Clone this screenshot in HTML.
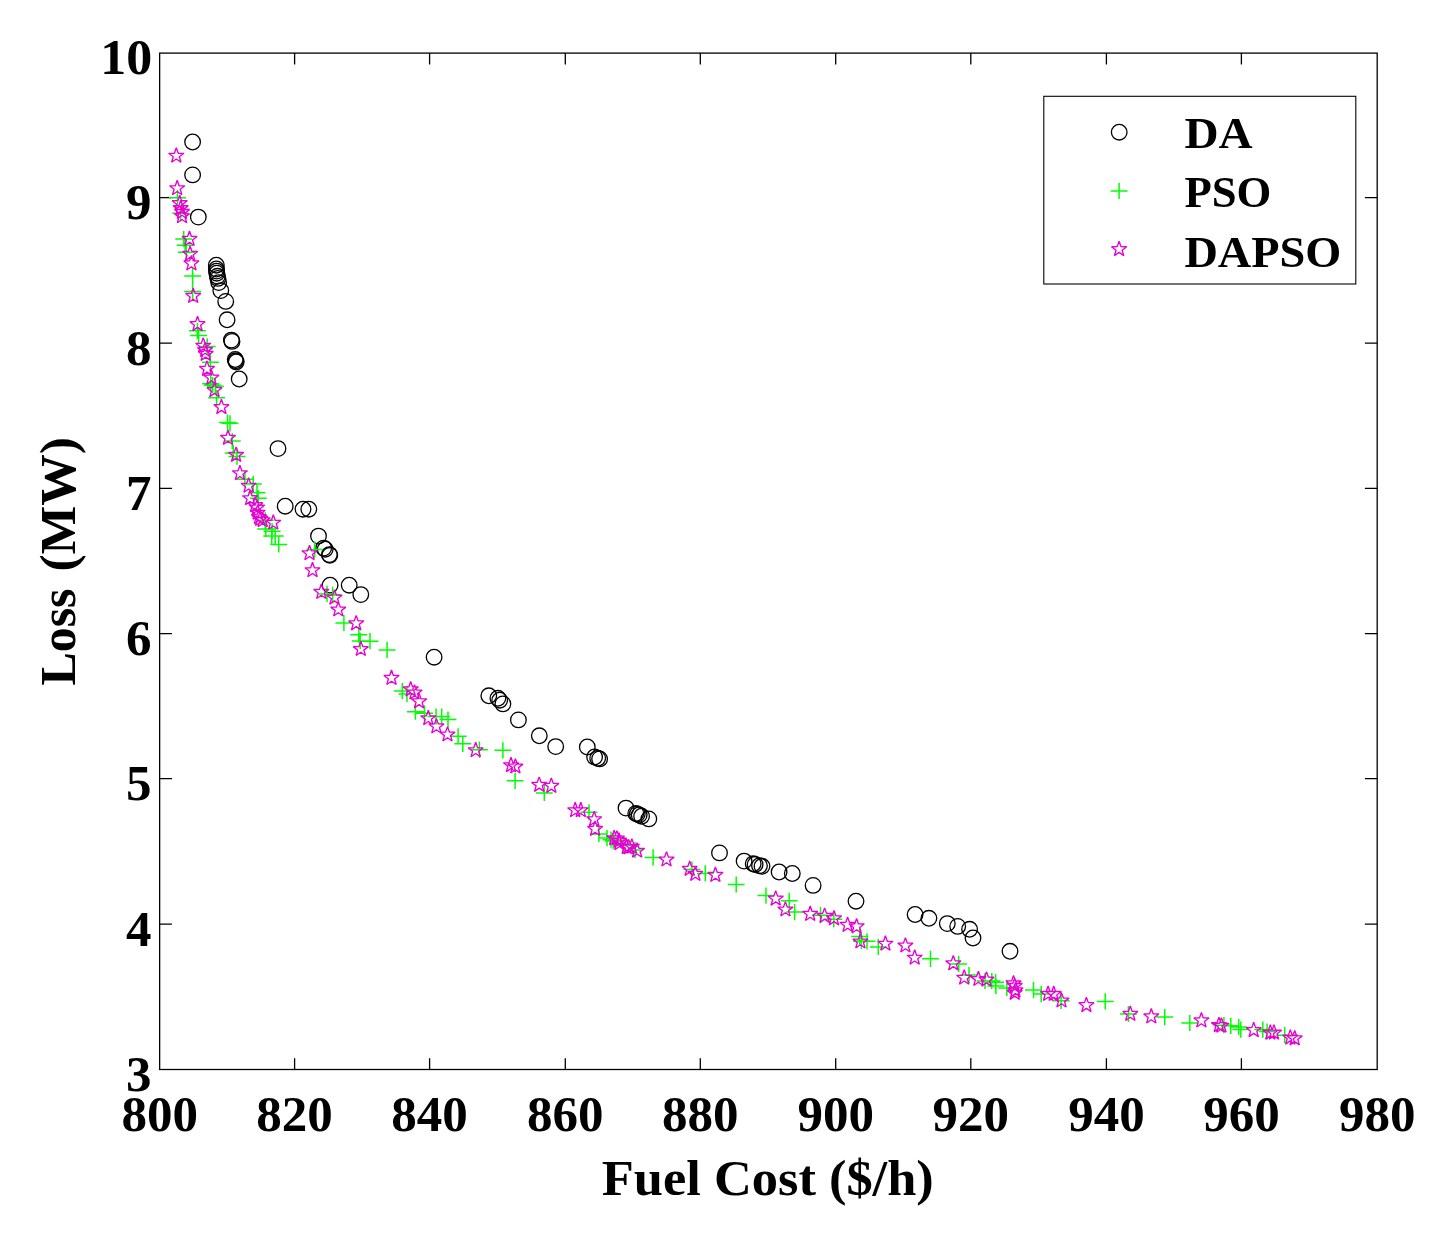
<!DOCTYPE html>
<html><head><meta charset="utf-8"><title>Pareto front: Loss vs Fuel Cost</title>
<style>
html,body{margin:0;padding:0;background:#fff;}
svg{display:block}
text{font-family:"Liberation Serif",serif;font-weight:bold;fill:#000}
</style></head><body>
<svg width="1436" height="1237" viewBox="0 0 1436 1237">
<rect width="1436" height="1237" fill="#fff"/>

<rect x="159.65" y="53.1" width="1217.55" height="1016.40" fill="none" stroke="#000" stroke-width="1.3"/>
<path d="M294.60 1069.5v-11.3M294.60 53.1v11.3M429.60 1069.5v-11.3M429.60 53.1v11.3M565.30 1069.5v-11.3M565.30 53.1v11.3M700.30 1069.5v-11.3M700.30 53.1v11.3M835.70 1069.5v-11.3M835.70 53.1v11.3M970.80 1069.5v-11.3M970.80 53.1v11.3M1106.40 1069.5v-11.3M1106.40 53.1v11.3M1241.40 1069.5v-11.3M1241.40 53.1v11.3M159.65 924.20h12.3M1377.2 924.20h-12.3M159.65 778.70h12.3M1377.2 778.70h-12.3M159.65 633.70h12.3M1377.2 633.70h-12.3M159.65 488.30h12.3M1377.2 488.30h-12.3M159.65 343.20h12.3M1377.2 343.20h-12.3M159.65 197.60h12.3M1377.2 197.60h-12.3" stroke="#000" stroke-width="1.3" fill="none"/>
<g font-size="51">
<text x="159.7" y="1130.5" text-anchor="middle">800</text>
<text x="294.6" y="1130.5" text-anchor="middle">820</text>
<text x="429.6" y="1130.5" text-anchor="middle">840</text>
<text x="565.3" y="1130.5" text-anchor="middle">860</text>
<text x="700.3" y="1130.5" text-anchor="middle">880</text>
<text x="835.7" y="1130.5" text-anchor="middle">900</text>
<text x="970.8" y="1130.5" text-anchor="middle">920</text>
<text x="1106.4" y="1130.5" text-anchor="middle">940</text>
<text x="1241.4" y="1130.5" text-anchor="middle">960</text>
<text x="1377.2" y="1130.5" text-anchor="middle">980</text>
<text x="151.6" y="1090.9" text-anchor="end">3</text>
<text x="151.6" y="945.6" text-anchor="end">4</text>
<text x="151.6" y="800.1" text-anchor="end">5</text>
<text x="151.6" y="655.1" text-anchor="end">6</text>
<text x="151.6" y="509.7" text-anchor="end">7</text>
<text x="151.6" y="364.6" text-anchor="end">8</text>
<text x="151.6" y="219.0" text-anchor="end">9</text>
<text x="152.2" y="74.1" text-anchor="end" textLength="52" lengthAdjust="spacingAndGlyphs">10</text>
</g>
<text x="767.8" y="1194.8" font-size="51" text-anchor="middle" textLength="332" lengthAdjust="spacingAndGlyphs">Fuel Cost ($/h)</text>
<g transform="translate(74.8 562) rotate(-90)" font-size="51"><text x="-123.5" y="0" textLength="97" lengthAdjust="spacingAndGlyphs">Loss</text><text x="-9.6" y="0" textLength="134.5" lengthAdjust="spacingAndGlyphs">(MW)</text></g>
<g fill="none" stroke="#000" stroke-width="1.3">
<circle cx="192.6" cy="142.0" r="7.8"/>
<circle cx="192.6" cy="174.9" r="7.8"/>
<circle cx="198.3" cy="217.1" r="7.8"/>
<circle cx="216.3" cy="265.2" r="7.8"/>
<circle cx="216.4" cy="269.0" r="7.8"/>
<circle cx="216.6" cy="271.1" r="7.8"/>
<circle cx="216.8" cy="273.2" r="7.8"/>
<circle cx="217.4" cy="276.3" r="7.8"/>
<circle cx="217.9" cy="278.4" r="7.8"/>
<circle cx="218.7" cy="282.6" r="7.8"/>
<circle cx="220.8" cy="290.6" r="7.8"/>
<circle cx="225.7" cy="301.4" r="7.8"/>
<circle cx="227.1" cy="319.8" r="7.8"/>
<circle cx="231.4" cy="340.1" r="7.8"/>
<circle cx="232.0" cy="341.4" r="7.8"/>
<circle cx="235.2" cy="359.5" r="7.8"/>
<circle cx="235.8" cy="360.8" r="7.8"/>
<circle cx="236.2" cy="362.0" r="7.8"/>
<circle cx="239.2" cy="379.0" r="7.8"/>
<circle cx="278.0" cy="448.6" r="7.8"/>
<circle cx="285.2" cy="506.2" r="7.8"/>
<circle cx="303.0" cy="509.2" r="7.8"/>
<circle cx="308.8" cy="509.2" r="7.8"/>
<circle cx="318.5" cy="536.1" r="7.8"/>
<circle cx="323.7" cy="548.1" r="7.8"/>
<circle cx="325.2" cy="549.2" r="7.8"/>
<circle cx="329.4" cy="554.6" r="7.8"/>
<circle cx="329.8" cy="555.3" r="7.8"/>
<circle cx="330.1" cy="585.2" r="7.8"/>
<circle cx="349.2" cy="585.2" r="7.8"/>
<circle cx="360.8" cy="594.6" r="7.8"/>
<circle cx="434.1" cy="657.2" r="7.8"/>
<circle cx="488.8" cy="695.8" r="7.8"/>
<circle cx="497.9" cy="698.3" r="7.8"/>
<circle cx="499.7" cy="700.2" r="7.8"/>
<circle cx="502.9" cy="703.9" r="7.8"/>
<circle cx="518.4" cy="719.9" r="7.8"/>
<circle cx="539.3" cy="735.8" r="7.8"/>
<circle cx="555.7" cy="746.6" r="7.8"/>
<circle cx="587.3" cy="747.0" r="7.8"/>
<circle cx="594.6" cy="757.0" r="7.8"/>
<circle cx="597.7" cy="758.3" r="7.8"/>
<circle cx="599.6" cy="758.9" r="7.8"/>
<circle cx="626.0" cy="808.1" r="7.8"/>
<circle cx="635.8" cy="813.4" r="7.8"/>
<circle cx="637.3" cy="814.1" r="7.8"/>
<circle cx="639.2" cy="815.0" r="7.8"/>
<circle cx="641.6" cy="816.2" r="7.8"/>
<circle cx="648.8" cy="818.9" r="7.8"/>
<circle cx="719.5" cy="852.9" r="7.8"/>
<circle cx="744.1" cy="861.1" r="7.8"/>
<circle cx="753.2" cy="863.8" r="7.8"/>
<circle cx="755.1" cy="864.5" r="7.8"/>
<circle cx="759.5" cy="865.7" r="7.8"/>
<circle cx="762.0" cy="866.3" r="7.8"/>
<circle cx="779.1" cy="872.0" r="7.8"/>
<circle cx="792.3" cy="873.5" r="7.8"/>
<circle cx="813.1" cy="885.4" r="7.8"/>
<circle cx="856.0" cy="901.2" r="7.8"/>
<circle cx="915.1" cy="914.5" r="7.8"/>
<circle cx="928.9" cy="918.3" r="7.8"/>
<circle cx="947.3" cy="923.6" r="7.8"/>
<circle cx="957.7" cy="926.4" r="7.8"/>
<circle cx="969.6" cy="929.3" r="7.8"/>
<circle cx="973.0" cy="938.0" r="7.8"/>
<circle cx="1010.0" cy="951.3" r="7.8"/>
<circle cx="1119.2" cy="132.2" r="7.8"/>
</g>
<path fill="none" stroke="#00ff00" stroke-width="1.5" d="M169.05 197.80h16.9M177.50 189.70v16.2M172.25 213.20h16.9M180.70 205.10v16.2M175.25 239.00h16.9M183.70 230.90v16.2M176.65 245.20h16.9M185.10 237.10v16.2M177.85 252.30h16.9M186.30 244.20v16.2M184.15 276.10h16.9M192.60 268.00v16.2M184.15 291.60h16.9M192.60 283.50v16.2M188.95 330.80h16.9M197.40 322.70v16.2M190.15 335.50h16.9M198.60 327.40v16.2M198.75 346.40h16.9M207.20 338.30v16.2M201.95 362.30h16.9M210.40 354.20v16.2M202.25 383.70h16.9M210.70 375.60v16.2M204.15 385.20h16.9M212.60 377.10v16.2M206.95 386.20h16.9M215.40 378.10v16.2M208.15 397.80h16.9M216.60 389.70v16.2M219.05 422.50h16.9M227.50 414.40v16.2M221.55 423.30h16.9M230.00 415.20v16.2M223.85 441.00h16.9M232.30 432.90v16.2M224.85 453.00h16.9M233.30 444.90v16.2M228.55 456.60h16.9M237.00 448.50v16.2M236.45 479.30h16.9M244.90 471.20v16.2M244.85 483.90h16.9M253.30 475.80v16.2M248.55 492.70h16.9M257.00 484.60v16.2M249.85 498.30h16.9M258.30 490.20v16.2M256.75 520.30h16.9M265.20 512.20v16.2M257.35 529.00h16.9M265.80 520.90v16.2M263.65 531.30h16.9M272.10 523.20v16.2M263.25 535.90h16.9M271.70 527.80v16.2M266.75 535.90h16.9M275.20 527.80v16.2M270.25 544.50h16.9M278.70 536.40v16.2M306.25 549.50h16.9M314.70 541.40v16.2M318.55 593.90h16.9M327.00 585.80v16.2M324.15 594.90h16.9M332.60 586.80v16.2M335.45 623.00h16.9M343.90 614.90v16.2M350.25 634.70h16.9M358.70 626.60v16.2M351.75 640.90h16.9M360.20 632.80v16.2M361.55 641.20h16.9M370.00 633.10v16.2M378.65 649.90h16.9M387.10 641.80v16.2M393.85 691.10h16.9M402.30 683.00v16.2M398.55 693.90h16.9M407.00 685.80v16.2M406.95 711.70h16.9M415.40 703.60v16.2M416.05 713.30h16.9M424.50 705.20v16.2M427.65 716.50h16.9M436.10 708.40v16.2M433.25 716.50h16.9M441.70 708.40v16.2M439.55 719.60h16.9M448.00 711.50v16.2M449.65 736.30h16.9M458.10 728.20v16.2M454.35 743.80h16.9M462.80 735.70v16.2M470.95 749.70h16.9M479.40 741.60v16.2M494.45 750.30h16.9M502.90 742.20v16.2M506.65 780.80h16.9M515.10 772.70v16.2M535.85 793.00h16.9M544.30 784.90v16.2M580.55 812.30h16.9M589.00 804.20v16.2M590.45 834.00h16.9M598.90 825.90v16.2M598.55 838.10h16.9M607.00 830.00v16.2M602.55 839.70h16.9M611.00 831.60v16.2M604.95 841.10h16.9M613.40 833.00v16.2M614.75 845.30h16.9M623.20 837.20v16.2M626.55 849.90h16.9M635.00 841.80v16.2M644.65 857.40h16.9M653.10 849.30v16.2M683.45 869.60h16.9M691.90 861.50v16.2M696.85 873.40h16.9M705.30 865.30v16.2M727.75 884.50h16.9M736.20 876.40v16.2M757.55 895.60h16.9M766.00 887.50v16.2M780.75 900.80h16.9M789.20 892.70v16.2M786.15 912.10h16.9M794.60 904.00v16.2M812.05 915.20h16.9M820.50 907.10v16.2M825.35 919.20h16.9M833.80 911.10v16.2M851.25 936.50h16.9M859.70 928.40v16.2M852.95 940.90h16.9M861.40 932.80v16.2M858.55 941.30h16.9M867.00 933.20v16.2M869.85 947.00h16.9M878.30 938.90v16.2M922.05 958.80h16.9M930.50 950.70v16.2M950.25 964.00h16.9M958.70 955.90v16.2M960.55 975.10h16.9M969.00 967.00v16.2M976.55 981.00h16.9M985.00 972.90v16.2M983.35 981.00h16.9M991.80 972.90v16.2M987.15 982.20h16.9M995.60 974.10v16.2M987.45 986.00h16.9M995.90 977.90v16.2M998.35 987.90h16.9M1006.80 979.80v16.2M1025.05 990.00h16.9M1033.50 981.90v16.2M1032.75 994.10h16.9M1041.20 986.00v16.2M1052.65 1000.80h16.9M1061.10 992.70v16.2M1096.75 1001.40h16.9M1105.20 993.30v16.2M1119.95 1014.00h16.9M1128.40 1005.90v16.2M1156.25 1017.10h16.9M1164.70 1009.00v16.2M1181.35 1023.00h16.9M1189.80 1014.90v16.2M1215.45 1025.20h16.9M1223.90 1017.10v16.2M1222.35 1025.80h16.9M1230.80 1017.70v16.2M1230.25 1027.10h16.9M1238.70 1019.00v16.2M1232.35 1029.60h16.9M1240.80 1021.50v16.2M1254.35 1029.60h16.9M1262.80 1021.50v16.2M1258.65 1031.50h16.9M1267.10 1023.40v16.2M1276.25 1035.20h16.9M1284.70 1027.10v16.2M1110.65 191.00h16.9M1119.10 182.90v16.2"/>
<path fill="none" stroke="#e800d4" stroke-width="1.35" stroke-linejoin="bevel" d="M176.30 147.80L178.18 153.21L183.91 153.33L179.34 156.79L181.00 162.27L176.30 159.00L171.60 162.27L173.26 156.79L168.69 153.33L174.42 153.21ZM177.20 180.30L179.08 185.71L184.81 185.83L180.24 189.29L181.90 194.77L177.20 191.50L172.50 194.77L174.16 189.29L169.59 185.83L175.32 185.71ZM179.70 195.20L181.58 200.61L187.31 200.73L182.74 204.19L184.40 209.67L179.70 206.40L175.00 209.67L176.66 204.19L172.09 200.73L177.82 200.61ZM180.70 200.20L182.58 205.61L188.31 205.73L183.74 209.19L185.40 214.67L180.70 211.40L176.00 214.67L177.66 209.19L173.09 205.73L178.82 205.61ZM182.00 204.00L183.88 209.41L189.61 209.53L185.04 212.99L186.70 218.47L182.00 215.20L177.30 218.47L178.96 212.99L174.39 209.53L180.12 209.41ZM182.00 208.30L183.88 213.71L189.61 213.83L185.04 217.29L186.70 222.77L182.00 219.50L177.30 222.77L178.96 217.29L174.39 213.83L180.12 213.71ZM189.50 231.00L191.38 236.41L197.11 236.53L192.54 239.99L194.20 245.47L189.50 242.20L184.80 245.47L186.46 239.99L181.89 236.53L187.62 236.41ZM190.10 246.00L191.98 251.41L197.71 251.53L193.14 254.99L194.80 260.47L190.10 257.20L185.40 260.47L187.06 254.99L182.49 251.53L188.22 251.41ZM191.40 255.50L193.28 260.91L199.01 261.03L194.44 264.49L196.10 269.97L191.40 266.70L186.70 269.97L188.36 264.49L183.79 261.03L189.52 260.91ZM193.20 288.00L195.08 293.41L200.81 293.53L196.24 296.99L197.90 302.47L193.20 299.20L188.50 302.47L190.16 296.99L185.59 293.53L191.32 293.41ZM197.50 316.20L199.38 321.61L205.11 321.73L200.54 325.19L202.20 330.67L197.50 327.40L192.80 330.67L194.46 325.19L189.89 321.73L195.62 321.61ZM203.20 337.80L205.08 343.21L210.81 343.33L206.24 346.79L207.90 352.27L203.20 349.00L198.50 352.27L200.16 346.79L195.59 343.33L201.32 343.21ZM205.10 342.10L206.98 347.51L212.71 347.63L208.14 351.09L209.80 356.57L205.10 353.30L200.40 356.57L202.06 351.09L197.49 347.63L203.22 347.51ZM205.70 345.90L207.58 351.31L213.31 351.43L208.74 354.89L210.40 360.37L205.70 357.10L201.00 360.37L202.66 354.89L198.09 351.43L203.82 351.31ZM207.00 360.90L208.88 366.31L214.61 366.43L210.04 369.89L211.70 375.37L207.00 372.10L202.30 375.37L203.96 369.89L199.39 366.43L205.12 366.31ZM211.40 369.70L213.28 375.11L219.01 375.23L214.44 378.69L216.10 384.17L211.40 380.90L206.70 384.17L208.36 378.69L203.79 375.23L209.52 375.11ZM214.50 382.20L216.38 387.61L222.11 387.73L217.54 391.19L219.20 396.67L214.50 393.40L209.80 396.67L211.46 391.19L206.89 387.73L212.62 387.61ZM221.40 399.20L223.28 404.61L229.01 404.73L224.44 408.19L226.10 413.67L221.40 410.40L216.70 413.67L218.36 408.19L213.79 404.73L219.52 404.61ZM228.00 430.00L229.88 435.41L235.61 435.53L231.04 438.99L232.70 444.47L228.00 441.20L223.30 444.47L224.96 438.99L220.39 435.53L226.12 435.41ZM236.10 446.90L237.98 452.31L243.71 452.43L239.14 455.89L240.80 461.37L236.10 458.10L231.40 461.37L233.06 455.89L228.49 452.43L234.22 452.31ZM239.90 465.30L241.78 470.71L247.51 470.83L242.94 474.29L244.60 479.77L239.90 476.50L235.20 479.77L236.86 474.29L232.29 470.83L238.02 470.71ZM248.60 477.80L250.48 483.21L256.21 483.33L251.64 486.79L253.30 492.27L248.60 489.00L243.90 492.27L245.56 486.79L240.99 483.33L246.72 483.21ZM250.10 490.30L251.98 495.71L257.71 495.83L253.14 499.29L254.80 504.77L250.10 501.50L245.40 504.77L247.06 499.29L242.49 495.83L248.22 495.71ZM255.20 497.20L257.08 502.61L262.81 502.73L258.24 506.19L259.90 511.67L255.20 508.40L250.50 511.67L252.16 506.19L247.59 502.73L253.32 502.61ZM257.00 499.70L258.88 505.11L264.61 505.23L260.04 508.69L261.70 514.17L257.00 510.90L252.30 514.17L253.96 508.69L249.39 505.23L255.12 505.11ZM257.70 504.80L259.58 510.21L265.31 510.33L260.74 513.79L262.40 519.27L257.70 516.00L253.00 519.27L254.66 513.79L250.09 510.33L255.82 510.21ZM258.90 509.10L260.78 514.51L266.51 514.63L261.94 518.09L263.60 523.57L258.90 520.30L254.20 523.57L255.86 518.09L251.29 514.63L257.02 514.51ZM260.20 511.00L262.08 516.41L267.81 516.53L263.24 519.99L264.90 525.47L260.20 522.20L255.50 525.47L257.16 519.99L252.59 516.53L258.32 516.41ZM262.70 512.30L264.58 517.71L270.31 517.83L265.74 521.29L267.40 526.77L262.70 523.50L258.00 526.77L259.66 521.29L255.09 517.83L260.82 517.71ZM273.30 514.80L275.18 520.21L280.91 520.33L276.34 523.79L278.00 529.27L273.30 526.00L268.60 529.27L270.26 523.79L265.69 520.33L271.42 520.21ZM309.50 545.30L311.38 550.71L317.11 550.83L312.54 554.29L314.20 559.77L309.50 556.50L304.80 559.77L306.46 554.29L301.89 550.83L307.62 550.71ZM312.50 562.30L314.38 567.71L320.11 567.83L315.54 571.29L317.20 576.77L312.50 573.50L307.80 576.77L309.46 571.29L304.89 567.83L310.62 567.71ZM321.30 584.00L323.18 589.41L328.91 589.53L324.34 592.99L326.00 598.47L321.30 595.20L316.60 598.47L318.26 592.99L313.69 589.53L319.42 589.41ZM334.50 589.70L336.38 595.11L342.11 595.23L337.54 598.69L339.20 604.17L334.50 600.90L329.80 604.17L331.46 598.69L326.89 595.23L332.62 595.11ZM338.30 601.60L340.18 607.01L345.91 607.13L341.34 610.59L343.00 616.07L338.30 612.80L333.60 616.07L335.26 610.59L330.69 607.13L336.42 607.01ZM356.20 615.40L358.08 620.81L363.81 620.93L359.24 624.39L360.90 629.87L356.20 626.60L351.50 629.87L353.16 624.39L348.59 620.93L354.32 620.81ZM360.80 641.10L362.68 646.51L368.41 646.63L363.84 650.09L365.50 655.57L360.80 652.30L356.10 655.57L357.76 650.09L353.19 646.63L358.92 646.51ZM391.50 670.00L393.38 675.41L399.11 675.53L394.54 678.99L396.20 684.47L391.50 681.20L386.80 684.47L388.46 678.99L383.89 675.53L389.62 675.41ZM410.70 681.50L412.58 686.91L418.31 687.03L413.74 690.49L415.40 695.97L410.70 692.70L406.00 695.97L407.66 690.49L403.09 687.03L408.82 686.91ZM414.50 684.60L416.38 690.01L422.11 690.13L417.54 693.59L419.20 699.07L414.50 695.80L409.80 699.07L411.46 693.59L406.89 690.13L412.62 690.01ZM419.10 693.40L420.98 698.81L426.71 698.93L422.14 702.39L423.80 707.87L419.10 704.60L414.40 707.87L416.06 702.39L411.49 698.93L417.22 698.81ZM428.30 710.30L430.18 715.71L435.91 715.83L431.34 719.29L433.00 724.77L428.30 721.50L423.60 724.77L425.26 719.29L420.69 715.83L426.42 715.71ZM436.40 718.50L438.28 723.91L444.01 724.03L439.44 727.49L441.10 732.97L436.40 729.70L431.70 732.97L433.36 727.49L428.79 724.03L434.52 723.91ZM447.50 726.60L449.38 732.01L455.11 732.13L450.54 735.59L452.20 741.07L447.50 737.80L442.80 741.07L444.46 735.59L439.89 732.13L445.62 732.01ZM475.70 742.30L477.58 747.71L483.31 747.83L478.74 751.29L480.40 756.77L475.70 753.50L471.00 756.77L472.66 751.29L468.09 747.83L473.82 747.71ZM511.00 757.30L512.88 762.71L518.61 762.83L514.04 766.29L515.70 771.77L511.00 768.50L506.30 771.77L507.96 766.29L503.39 762.83L509.12 762.71ZM515.40 758.60L517.28 764.01L523.01 764.13L518.44 767.59L520.10 773.07L515.40 769.80L510.70 773.07L512.36 767.59L507.79 764.13L513.52 764.01ZM539.20 776.90L541.08 782.31L546.81 782.43L542.24 785.89L543.90 791.37L539.20 788.10L534.50 791.37L536.16 785.89L531.59 782.43L537.32 782.31ZM551.30 777.90L553.18 783.31L558.91 783.43L554.34 786.89L556.00 792.37L551.30 789.10L546.60 792.37L548.26 786.89L543.69 783.43L549.42 783.31ZM575.20 802.30L577.08 807.71L582.81 807.83L578.24 811.29L579.90 816.77L575.20 813.50L570.50 816.77L572.16 811.29L567.59 807.83L573.32 807.71ZM580.80 802.30L582.68 807.71L588.41 807.83L583.84 811.29L585.50 816.77L580.80 813.50L576.10 816.77L577.76 811.29L573.19 807.83L578.92 807.71ZM594.20 811.30L596.08 816.71L601.81 816.83L597.24 820.29L598.90 825.77L594.20 822.50L589.50 825.77L591.16 820.29L586.59 816.83L592.32 816.71ZM595.10 821.00L596.98 826.41L602.71 826.53L598.14 829.99L599.80 835.47L595.10 832.20L590.40 835.47L592.06 829.99L587.49 826.53L593.22 826.41ZM614.10 830.30L615.98 835.71L621.71 835.83L617.14 839.29L618.80 844.77L614.10 841.50L609.40 844.77L611.06 839.29L606.49 835.83L612.22 835.71ZM616.90 830.60L618.78 836.01L624.51 836.13L619.94 839.59L621.60 845.07L616.90 841.80L612.20 845.07L613.86 839.59L609.29 836.13L615.02 836.01ZM619.00 832.70L620.88 838.11L626.61 838.23L622.04 841.69L623.70 847.17L619.00 843.90L614.30 847.17L615.96 841.69L611.39 838.23L617.12 838.11ZM619.50 835.30L621.38 840.71L627.11 840.83L622.54 844.29L624.20 849.77L619.50 846.50L614.80 849.77L616.46 844.29L611.89 840.83L617.62 840.71ZM626.70 839.10L628.58 844.51L634.31 844.63L629.74 848.09L631.40 853.57L626.70 850.30L622.00 853.57L623.66 848.09L619.09 844.63L624.82 844.51ZM628.70 839.40L630.58 844.81L636.31 844.93L631.74 848.39L633.40 853.87L628.70 850.60L624.00 853.87L625.66 848.39L621.09 844.93L626.82 844.81ZM631.90 838.80L633.78 844.21L639.51 844.33L634.94 847.79L636.60 853.27L631.90 850.00L627.20 853.27L628.86 847.79L624.29 844.33L630.02 844.21ZM637.10 842.80L638.98 848.21L644.71 848.33L640.14 851.79L641.80 857.27L637.10 854.00L632.40 857.27L634.06 851.79L629.49 848.33L635.22 848.21ZM666.50 851.60L668.38 857.01L674.11 857.13L669.54 860.59L671.20 866.07L666.50 862.80L661.80 866.07L663.46 860.59L658.89 857.13L664.62 857.01ZM689.70 861.00L691.58 866.41L697.31 866.53L692.74 869.99L694.40 875.47L689.70 872.20L685.00 875.47L686.66 869.99L682.09 866.53L687.82 866.41ZM695.30 866.00L697.18 871.41L702.91 871.53L698.34 874.99L700.00 880.47L695.30 877.20L690.60 880.47L692.26 874.99L687.69 871.53L693.42 871.41ZM715.40 867.00L717.28 872.41L723.01 872.53L718.44 875.99L720.10 881.47L715.40 878.20L710.70 881.47L712.36 875.99L707.79 872.53L713.52 872.41ZM775.70 890.70L777.58 896.11L783.31 896.23L778.74 899.69L780.40 905.17L775.70 901.90L771.00 905.17L772.66 899.69L768.09 896.23L773.82 896.11ZM785.40 901.60L787.28 907.01L793.01 907.13L788.44 910.59L790.10 916.07L785.40 912.80L780.70 916.07L782.36 910.59L777.79 907.13L783.52 907.01ZM810.20 906.00L812.08 911.41L817.81 911.53L813.24 914.99L814.90 920.47L810.20 917.20L805.50 920.47L807.16 914.99L802.59 911.53L808.32 911.41ZM824.60 907.90L826.48 913.31L832.21 913.43L827.64 916.89L829.30 922.37L824.60 919.10L819.90 922.37L821.56 916.89L816.99 913.43L822.72 913.31ZM834.00 910.40L835.88 915.81L841.61 915.93L837.04 919.39L838.70 924.87L834.00 921.60L829.30 924.87L830.96 919.39L826.39 915.93L832.12 915.81ZM847.60 917.00L849.48 922.41L855.21 922.53L850.64 925.99L852.30 931.47L847.60 928.20L842.90 931.47L844.56 925.99L839.99 922.53L845.72 922.41ZM856.60 918.50L858.48 923.91L864.21 924.03L859.64 927.49L861.30 932.97L856.60 929.70L851.90 932.97L853.56 927.49L848.99 924.03L854.72 923.91ZM860.40 933.60L862.28 939.01L868.01 939.13L863.44 942.59L865.10 948.07L860.40 944.80L855.70 948.07L857.36 942.59L852.79 939.13L858.52 939.01ZM885.40 935.80L887.28 941.21L893.01 941.33L888.44 944.79L890.10 950.27L885.40 947.00L880.70 950.27L882.36 944.79L877.79 941.33L883.52 941.21ZM905.40 937.60L907.28 943.01L913.01 943.13L908.44 946.59L910.10 952.07L905.40 948.80L900.70 952.07L902.36 946.59L897.79 943.13L903.52 943.01ZM914.70 949.80L916.58 955.21L922.31 955.33L917.74 958.79L919.40 964.27L914.70 961.00L910.00 964.27L911.66 958.79L907.09 955.33L912.82 955.21ZM953.30 955.40L955.18 960.81L960.91 960.93L956.34 964.39L958.00 969.87L953.30 966.60L948.60 969.87L950.26 964.39L945.69 960.93L951.42 960.81ZM964.20 969.80L966.08 975.21L971.81 975.33L967.24 978.79L968.90 984.27L964.20 981.00L959.50 984.27L961.16 978.79L956.59 975.33L962.32 975.21ZM978.40 971.10L980.28 976.51L986.01 976.63L981.44 980.09L983.10 985.57L978.40 982.30L973.70 985.57L975.36 980.09L970.79 976.63L976.52 976.51ZM986.50 971.70L988.38 977.11L994.11 977.23L989.54 980.69L991.20 986.17L986.50 982.90L981.80 986.17L983.46 980.69L978.89 977.23L984.62 977.11ZM1013.50 975.50L1015.38 980.91L1021.11 981.03L1016.54 984.49L1018.20 989.97L1013.50 986.70L1008.80 989.97L1010.46 984.49L1005.89 981.03L1011.62 980.91ZM1014.70 978.00L1016.58 983.41L1022.31 983.53L1017.74 986.99L1019.40 992.47L1014.70 989.20L1010.00 992.47L1011.66 986.99L1007.09 983.53L1012.82 983.41ZM1015.40 982.40L1017.28 987.81L1023.01 987.93L1018.44 991.39L1020.10 996.87L1015.40 993.60L1010.70 996.87L1012.36 991.39L1007.79 987.93L1013.52 987.81ZM1014.70 984.90L1016.58 990.31L1022.31 990.43L1017.74 993.89L1019.40 999.37L1014.70 996.10L1010.00 999.37L1011.66 993.89L1007.09 990.43L1012.82 990.31ZM1048.10 986.00L1049.98 991.41L1055.71 991.53L1051.14 994.99L1052.80 1000.47L1048.10 997.20L1043.40 1000.47L1045.06 994.99L1040.49 991.53L1046.22 991.41ZM1053.70 986.00L1055.58 991.41L1061.31 991.53L1056.74 994.99L1058.40 1000.47L1053.70 997.20L1049.00 1000.47L1050.66 994.99L1046.09 991.53L1051.82 991.41ZM1061.50 992.60L1063.38 998.01L1069.11 998.13L1064.54 1001.59L1066.20 1007.07L1061.50 1003.80L1056.80 1007.07L1058.46 1001.59L1053.89 998.13L1059.62 998.01ZM1086.40 997.20L1088.28 1002.61L1094.01 1002.73L1089.44 1006.19L1091.10 1011.67L1086.40 1008.40L1081.70 1011.67L1083.36 1006.19L1078.79 1002.73L1084.52 1002.61ZM1130.30 1006.00L1132.18 1011.41L1137.91 1011.53L1133.34 1014.99L1135.00 1020.47L1130.30 1017.20L1125.60 1020.47L1127.26 1014.99L1122.69 1011.53L1128.42 1011.41ZM1151.30 1008.50L1153.18 1013.91L1158.91 1014.03L1154.34 1017.49L1156.00 1022.97L1151.30 1019.70L1146.60 1022.97L1148.26 1017.49L1143.69 1014.03L1149.42 1013.91ZM1201.40 1012.50L1203.28 1017.91L1209.01 1018.03L1204.44 1021.49L1206.10 1026.97L1201.40 1023.70L1196.70 1026.97L1198.36 1021.49L1193.79 1018.03L1199.52 1017.91ZM1218.90 1017.20L1220.78 1022.61L1226.51 1022.73L1221.94 1026.19L1223.60 1031.67L1218.90 1028.40L1214.20 1031.67L1215.86 1026.19L1211.29 1022.73L1217.02 1022.61ZM1221.40 1017.80L1223.28 1023.21L1229.01 1023.33L1224.44 1026.79L1226.10 1032.27L1221.40 1029.00L1216.70 1032.27L1218.36 1026.79L1213.79 1023.33L1219.52 1023.21ZM1253.70 1022.20L1255.58 1027.61L1261.31 1027.73L1256.74 1031.19L1258.40 1036.67L1253.70 1033.40L1249.00 1036.67L1250.66 1031.19L1246.09 1027.73L1251.82 1027.61ZM1270.30 1024.70L1272.18 1030.11L1277.91 1030.23L1273.34 1033.69L1275.00 1039.17L1270.30 1035.90L1265.60 1039.17L1267.26 1033.69L1262.69 1030.23L1268.42 1030.11ZM1274.00 1024.70L1275.88 1030.11L1281.61 1030.23L1277.04 1033.69L1278.70 1039.17L1274.00 1035.90L1269.30 1039.17L1270.96 1033.69L1266.39 1030.23L1272.12 1030.11ZM1290.30 1029.70L1292.18 1035.11L1297.91 1035.23L1293.34 1038.69L1295.00 1044.17L1290.30 1040.90L1285.60 1044.17L1287.26 1038.69L1282.69 1035.23L1288.42 1035.11ZM1294.70 1030.40L1296.58 1035.81L1302.31 1035.93L1297.74 1039.39L1299.40 1044.87L1294.70 1041.60L1290.00 1044.87L1291.66 1039.39L1287.09 1035.93L1292.82 1035.81ZM1119.10 241.20L1120.98 246.61L1126.71 246.73L1122.14 250.19L1123.80 255.67L1119.10 252.40L1114.40 255.67L1116.06 250.19L1111.49 246.73L1117.22 246.61Z"/>
<rect x="1043.8" y="96.3" width="312.0" height="187.7" fill="none" stroke="#000" stroke-width="1.1"/>
<g font-size="44">
<text x="1184.4" y="148.1" textLength="68.2" lengthAdjust="spacingAndGlyphs">DA</text>
<text x="1184.4" y="207.3" textLength="87" lengthAdjust="spacingAndGlyphs">PSO</text>
<text x="1184.4" y="266.8" textLength="157" lengthAdjust="spacingAndGlyphs">DAPSO</text>
</g>
</svg></body></html>
